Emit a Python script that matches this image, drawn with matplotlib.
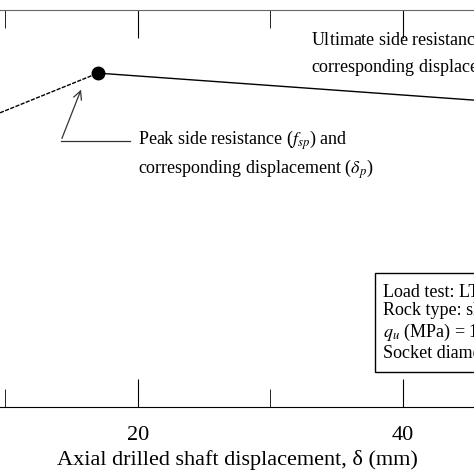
import matplotlib
matplotlib.use("Agg")
import matplotlib.pyplot as plt
from matplotlib.patches import Rectangle

plt.rcParams['font.family'] = ['Liberation Serif', 'DejaVu Serif']
plt.rcParams['mathtext.fontset'] = 'stix'

x_rise = [9.6, 17.0]
y_rise = [0.741, 0.841]
x_soft = [17.0, 45.4]
y_soft = [0.841, 0.773]
peak_x, peak_y = 17.0, 0.841
xticks = [20, 40]

fig = plt.figure(figsize=(4.74, 4.74), dpi=100)
ax = fig.add_axes([0, 1 - 407/474, 1, 397/474])
ax.set_xlim(9.6, 45.4)
ax.set_ylim(0, 1)
ax.plot(x_rise, y_rise, color='black', lw=1.0, ls=(0, (3, 1)))
ax.plot(x_soft, y_soft, color='black', lw=1.0)
ax.plot([peak_x], [peak_y], 'o', color='black', ms=9)

for s in ['left', 'right']:
    ax.spines[s].set_visible(False)
ax.spines['top'].set_color('#666666')
ax.set_yticks([])
ax.set_xticks(xticks)
ax.set_xticks([10, 30], minor=True)
ax.tick_params(axis='x', which='major', direction='in', length=20, top=True, labelsize=16, pad=14)
ax.tick_params(axis='x', which='minor', direction='in', length=13, top=True)
ax.set_xlabel('Axial drilled shaft displacement, δ (mm)', fontsize=16, labelpad=3)

# annotation leader
ax.plot([14.2, 19.4], [0.670, 0.670], color='#333333', lw=0.9)
ax.annotate('', xy=(15.8, 0.806), xytext=(14.2, 0.670),
            arrowprops=dict(arrowstyle='->', color='#333333', lw=0.9, mutation_scale=15))
ax.text(20.0, 0.635, r'Peak side resistance ($f_{sp}$) and' + '\n' +
        r'corresponding displacement ($\delta_p$)', fontsize=13, va='center', ha='left',
        linespacing=1.35)
ax.text(33.1, 0.889, 'Ultimate side resistance ($f_{su}$) and\ncorresponding displacement ($\delta_u$)',
        fontsize=13, va='center', ha='left', linespacing=1.35)

ax.add_patch(Rectangle((37.9, 0.088), 10, 0.25, fill=False, ec='black', lw=1.0, clip_on=False))
ax.text(38.5, 0.212, 'Load test: LT-1\nRock type: shale\n$q_u$ (MPa) = 1.5\nSocket diameter (m) = 1.2',
        fontsize=13, va='center', ha='left', linespacing=1.15)

fig.savefig('out.png', dpi=100)
